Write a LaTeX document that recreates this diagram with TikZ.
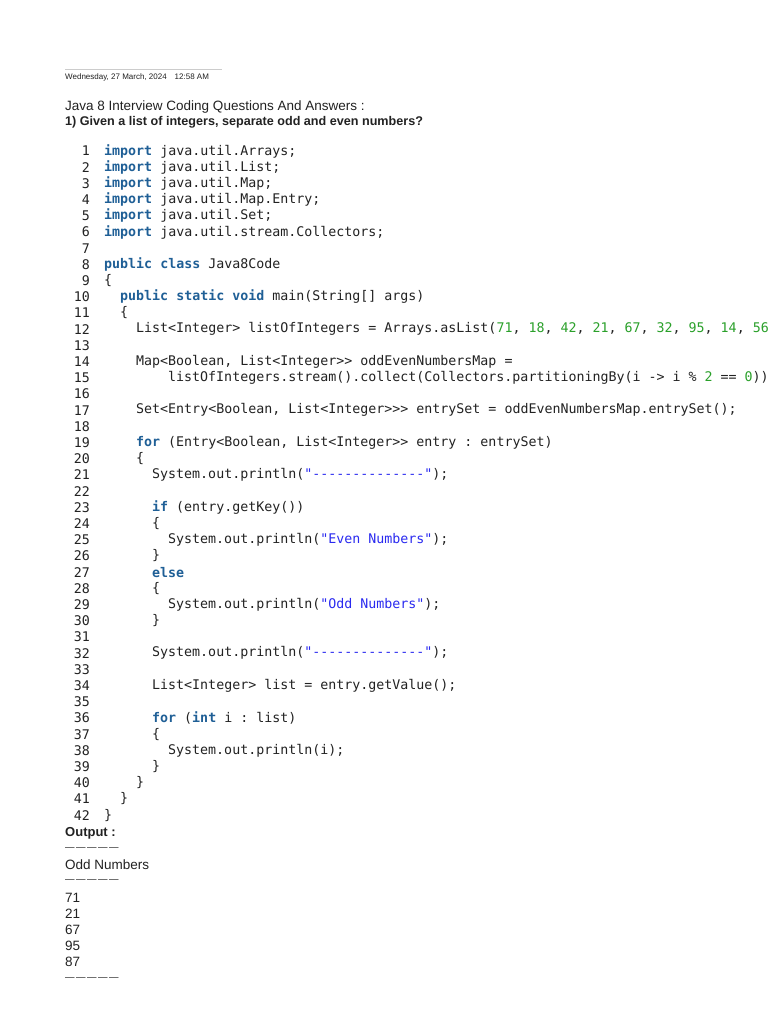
\documentclass[tikz,border=0pt]{standalone}
\usepackage{fontspec}
\setmainfont{Liberation Sans}
\setmonofont{DejaVu Sans Mono}
\definecolor{kwc}{HTML}{1F5F96}
\definecolor{strc}{HTML}{2A2AF0}
\definecolor{numc}{HTML}{2AA02A}
\definecolor{txtc}{HTML}{222222}
\newcommand{\kw}[1]{\textcolor{kwc}{\textbf{#1}}}
\newcommand{\sv}[1]{\textcolor{strc}{#1}}
\newcommand{\nm}[1]{\textcolor{numc}{#1}}
\newcommand{\dashrow}{{\fontsize{9.5}{12}\selectfont —\kern1.5pt—\kern1.5pt—\kern1.5pt—\kern1.5pt—}}
\newcommand{\cl}[3]{%
  \node[lnum] (n#1) at (90pt,{-(151pt+(#1-1)*16.2pt)}) {#1};
  \node[code] (c#1) at ({104pt+#2*16pt},{-(151pt+(#1-1)*16.2pt)}) {#3};}
\begin{document}
\begin{tikzpicture}[x=1pt,y=1pt,
  lnum/.style={anchor=east,inner sep=0pt,font=\ttfamily\fontsize{13.3}{16}\selectfont,text=txtc},
  code/.style={anchor=west,inner sep=0pt,font=\ttfamily\fontsize{13.3}{16}\selectfont,text=txtc},
  txt/.style={anchor=west,inner sep=0pt,font=\fontsize{13.5}{16}\selectfont,text=txtc}]
\useasboundingbox (0,0) rectangle (768,-1024);
\clip (0,0) rectangle (768,-1024);
\fill[white] (0,0) rectangle (768,-1024);
\draw[gray!40,line width=0.8pt] (65,-69) -- (222,-69);
\node[txt,font=\fontsize{8}{10}\selectfont] (date) at (65,-77) {Wednesday, 27 March, 2024\quad 12:58 AM};
\node[txt] (t1) at (65,-107) {Java 8 Interview Coding Questions And Answers :};
\node[txt,font=\bfseries\fontsize{12.6}{16}\selectfont] (t2) at (65,-122) {1) Given a list of integers, separate odd and even numbers?};
\cl{1}{0}{\kw{import} java.util.Arrays;}
\cl{2}{0}{\kw{import} java.util.List;}
\cl{3}{0}{\kw{import} java.util.Map;}
\cl{4}{0}{\kw{import} java.util.Map.Entry;}
\cl{5}{0}{\kw{import} java.util.Set;}
\cl{6}{0}{\kw{import} java.util.stream.Collectors;}
\cl{7}{0}{}
\cl{8}{0}{\kw{public} \kw{class} Java8Code}
\cl{9}{0}{\{}
\cl{10}{1}{\kw{public} \kw{static} \kw{void} main(String[] args)}
\cl{11}{1}{\{}
\cl{12}{2}{List<Integer> listOfIntegers = Arrays.asList(\nm{71}, \nm{18}, \nm{42}, \nm{21}, \nm{67}, \nm{32}, \nm{95}, \nm{14}, \nm{56}, \nm{87});}
\cl{13}{0}{}
\cl{14}{2}{Map<Boolean, List<Integer>> oddEvenNumbersMap =}
\node[code] (c15) at (168,{-(151+14*16.2)}) {listOfIntegers.stream().collect(Collectors.partitioningBy(i -> i \% \nm{2} == \nm{0}));};
\node[lnum] (n15) at (90,{-(151+14*16.2)}) {15};
\cl{16}{0}{}
\cl{17}{2}{Set<Entry<Boolean, List<Integer>>> entrySet = oddEvenNumbersMap.entrySet();}
\cl{18}{0}{}
\cl{19}{2}{\kw{for} (Entry<Boolean, List<Integer>> entry : entrySet)}
\cl{20}{2}{\{}
\cl{21}{3}{System.out.println(\sv{"--------------"});}
\cl{22}{0}{}
\cl{23}{3}{\kw{if} (entry.getKey())}
\cl{24}{3}{\{}
\cl{25}{4}{System.out.println(\sv{"Even Numbers"});}
\cl{26}{3}{\}}
\cl{27}{3}{\kw{else}}
\cl{28}{3}{\{}
\cl{29}{4}{System.out.println(\sv{"Odd Numbers"});}
\cl{30}{3}{\}}
\cl{31}{0}{}
\cl{32}{3}{System.out.println(\sv{"--------------"});}
\cl{33}{0}{}
\cl{34}{3}{List<Integer> list = entry.getValue();}
\cl{35}{0}{}
\cl{36}{3}{\kw{for} (\kw{int} i : list)}
\cl{37}{3}{\{}
\cl{38}{4}{System.out.println(i);}
\cl{39}{3}{\}}
\cl{40}{2}{\}}
\cl{41}{1}{\}}
\cl{42}{0}{\}}
\node[txt,font=\bfseries\fontsize{13}{16}\selectfont] (o0) at (65,-833) {Output :};
\node[txt] (o1) at (65,-849) {\dashrow};
\node[txt] (o2) at (65,-865) {Odd Numbers};
\node[txt] (o3) at (65,-881) {\dashrow};
\node[txt] (o4) at (65,-898) {71};
\node[txt] (o5) at (65,-914) {21};
\node[txt] (o6) at (65,-930) {67};
\node[txt] (o7) at (65,-946) {95};
\node[txt] (o8) at (65,-962) {87};
\node[txt] (o9) at (65,-979) {\dashrow};
\end{tikzpicture}
\end{document}
